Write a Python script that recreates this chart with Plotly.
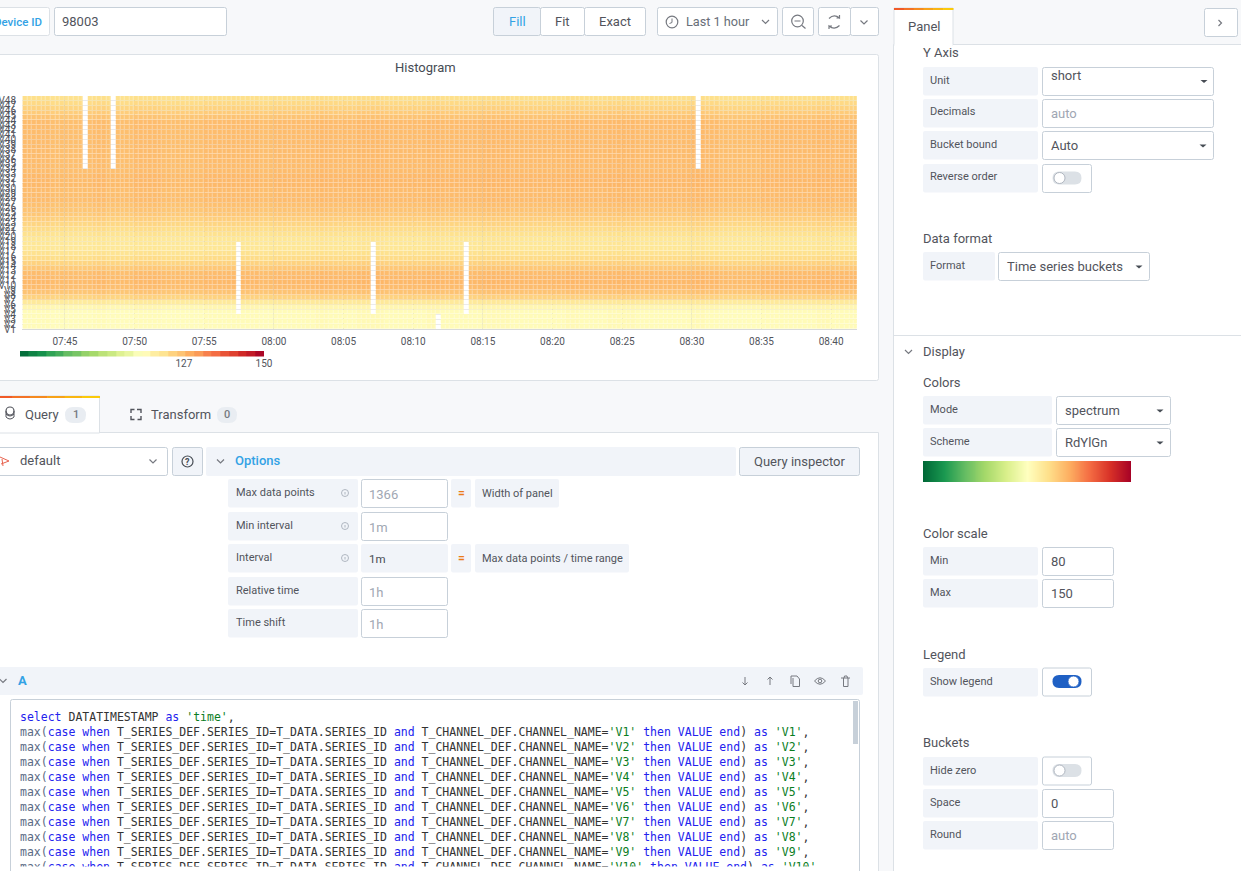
import re
import pandas as pd
import plotly.graph_objects as go

W, H = 1241, 871

channels = ["V%d" % i for i in range(1, 49)]
# value per channel, bottom (V1) to top (V48)
channel_levels = [116, 116, 116, 116, 117, 120, 124, 126, 127, 127.5,
                  127.5, 127, 125.5, 124, 122.5, 121.5, 120.5, 120.5, 120.5, 121.5,
                  122.5, 123.5, 124.5, 125.5, 126, 126.5, 127, 127, 127, 127.5,
                  127.5, 127.5, 127, 127, 127, 127, 127, 127, 127, 127,
                  127, 127, 127, 126, 125, 124, 123, 122]
# drift of each minute from 07:42 to 08:41
minute_drift = [0, 0, -0.4, -0.4, -0.4, 0, -0.4, -0.4, 0, 0,
                -0.4, -0.4, -0.4, 0, 0, 0, 0, -0.4, 0, 0,
                0, 0.3, 0, 0, 0.3, 0.3, 0, 0, 0, 0.3,
                0, 0, 0, 0.3, 0.3, 0, 0, 0, 0, 0.3,
                0, 0, 0.3, 0.3, 0, 0, 0, 0, 0.3, 0,
                -0.4, -0.4, -0.4, 0, 0, 0, 0, 0.3, 0, 0]
# (column of 20 s, first channel index, last channel index)
missing_blocks = [(13, 33, 47), (19, 33, 47), (145, 33, 47),
                  (46, 3, 17), (75, 3, 17), (95, 3, 17), (89, 0, 2)]
tick_times = ["07:45", "07:50", "07:55", "08:00", "08:05", "08:10", "08:15", "08:20",
              "08:25", "08:30", "08:35", "08:40"]
legend_values = [81, 84, 86, 89, 91, 94, 96, 99, 101, 104, 106, 109, 111, 114,
                 116, 119, 121, 124, 126, 129, 131, 134, 136, 139, 141, 144, 146, 149]
legend_ticks = [127, 150]
scheme_ramp = list(range(80, 151))
code_channels = ["V1", "V2", "V3", "V4", "V5", "V6", "V7", "V8", "V9", "V10"]

rdylgn = ["#006837", "#1a9850", "#66bd63", "#a6d96a", "#d9ef8b", "#ffffbf",
          "#fee08b", "#fdae61", "#f46d43", "#d73027", "#a50026"]
colorscale = [[i / 10, c] for i, c in enumerate(rdylgn)]

BG = "#f7f8fa"
PANEL = "#f1f4f9"
LINE = "#dce1e6"
INPUT = "#c7d0d9"
TEXT = "#52545c"
MUTED = "#9fa7b3"
BLUE = "#33a2e5"

shapes = []
notes = []


def fx(x):
    return x / W


def fy(y):
    return 1 - y / H


def px_path(s):
    out, is_x = [], True
    for tok in re.findall(r"[A-Z]|-?[\d.]+", s):
        if tok.isalpha():
            out.append(tok)
            is_x = True
        else:
            out.append(str(fx(float(tok))) if is_x else str(fy(float(tok))))
            is_x = not is_x
    return " ".join(out)


def path(s, fill=None, line=None, width=1.2):
    shapes.append(dict(type="path", path=px_path(s), xref="paper", yref="paper", layer="below",
                       fillcolor=fill or "rgba(0,0,0,0)", line=dict(color=line or "rgba(0,0,0,0)", width=width)))


def box(x0, y0, x1, y1, fill=None, line=None, r=2):
    path("M %s %s L %s %s Q %s %s %s %s L %s %s Q %s %s %s %s L %s %s Q %s %s %s %s L %s %s Q %s %s %s %s Z" % (
        x0 + r, y0, x1 - r, y0, x1, y0, x1, y0 + r, x1, y1 - r, x1, y1, x1 - r, y1,
        x0 + r, y1, x0, y1, x0, y1 - r, x0, y0 + r, x0, y0, x0 + r, y0), fill, line, 1)


def circle(x, y, r, fill=None, line=None, width=1.2):
    shapes.append(dict(type="circle", xref="paper", yref="paper", layer="below",
                       x0=fx(x - r), x1=fx(x + r), y0=fy(y + r), y1=fy(y - r),
                       fillcolor=fill or "rgba(0,0,0,0)", line=dict(color=line or "rgba(0,0,0,0)", width=width)))


def label(x, y, s, size=13, color=TEXT, anchor="left", weight=400, family="Roboto"):
    notes.append(dict(x=fx(x), y=fy(y), xref="paper", yref="paper", text=s, showarrow=False,
                      xanchor=anchor, yanchor="middle", borderpad=0, borderwidth=0,
                      font=dict(size=size, color=color, weight=weight, family=family)))


def chevron(x, y, color="#767980"):
    path("M %s %s L %s %s L %s %s" % (x - 3.5, y - 1.5, x, y + 2, x + 3.5, y - 1.5), line=color)


def caret(x, y):
    path("M %s %s L %s %s L %s %s Z" % (x - 3.5, y - 1.5, x + 3.5, y - 1.5, x, y + 1.5), fill="#464c54")


def tab_top(x0, x1, y):
    stops = ["#f05a28", "#f37226", "#f58a1f", "#f7a218", "#f9b611", "#fbca0a"]
    step = (x1 - x0) / len(stops)
    for i, c in enumerate(stops):
        box(x0 + i * step, y, x0 + (i + 1) * step + 0.5, y + 2, fill=c, r=0)


def toggle(x0, y0, on):
    box(x0, y0, x0 + 49, y0 + 28, fill="white", line=INPUT)
    box(x0 + 10, y0 + 7, x0 + 39, y0 + 20, fill="#1f60c4" if on else LINE, r=6.5)
    circle(x0 + (31 if on else 17), y0 + 13.5, 5.5, fill="white", line="#1f60c4" if on else MUTED, width=0.8)


def field(y, name, x1, text=None, x2=1213.5, hint=False, select=False, left=923, right=1038, size=11, text_x=None):
    box(left, y, right, y + 28.5, fill=PANEL)
    label(left + 7, y + 13, name, size=size)
    if text is not None:
        box(x1, y + 0.5, x2, y + 28.5, fill="white", line=INPUT)
        label(text_x or x1 + 8, y + 14.5, text, size=13, color=MUTED if hint else TEXT)
    if select:
        caret(x2 - 10.5, y + 15)


# page, panels
box(-2, -2, W + 2, H + 2, fill=BG, r=0)
box(-2, 54.5, 878.5, 380.5, fill="white", line=LINE)
box(-2, 432.5, 878.5, H + 5, fill="white", line=LINE, r=0)
box(893.5, 44.5, W + 3, H + 5, fill="white", line=LINE, r=0)

# top bar
box(-10, 7.5, 49.5, 35.5, fill="white", line=LINE)
label(42, 21.5, "Device ID", size=11.5, color=BLUE, anchor="right", weight=500)
box(54.5, 7.5, 226.5, 35.5, fill="white", line=INPUT)
label(62, 21.5, "98003", size=13)
box(493.5, 7.5, 540.5, 35.5, fill=PANEL, line=INPUT)
box(540.5, 7.5, 584.5, 35.5, fill="white", line=INPUT)
box(584.5, 7.5, 645.5, 35.5, fill="white", line=INPUT)
label(517, 21.5, "Fill", size=13, color=BLUE, anchor="center")
label(562.5, 21.5, "Fit", size=13, anchor="center")
label(615, 21.5, "Exact", size=13, anchor="center")
box(657.5, 7.5, 777.5, 35.5, fill="white", line=INPUT)
circle(672, 22, 5.8, line="#767980")
path("M 672 18.5 L 672 22.5 L 669.5 23.5", line="#767980", width=1)
label(685.5, 21.5, "Last 1 hour", size=12.7, color="#686e78")
chevron(765.5, 21.5)
box(782.5, 7.5, 813.5, 35.5, fill="white", line=INPUT)
circle(797.5, 21, 5.8, line="#767980")
path("M 794.5 21 L 800.5 21 M 802 25.5 L 805.5 28.5", line="#767980")
box(818.5, 7.5, 850.5, 35.5, fill="white", line=INPUT)
box(850.5, 7.5, 878.5, 35.5, fill="white", line=INPUT)
path("M 829 18.5 Q 834 13.5 839.5 18 L 839.5 15 M 839.5 18 L 836.5 18 M 839.5 25.5 Q 834.5 30.5 829 26 L 829 29 M 829 26 L 832 26",
     line="#767980")
chevron(864, 22)

label(425.5, 67.5, "Histogram", size=13, color="#464c54", anchor="center")

# query tabs
box(-5, 396, 99.5, 433, fill="white", line=LINE, r=0)
tab_top(-5, 99.5, 396)
circle(10, 411, 4, line=TEXT)
path("M 6 411 L 6 417 Q 10 421 14 417 L 14 411 M 6 414 Q 10 418 14 414", line=TEXT, width=1)
label(24.5, 414.5, "Query", size=13)
box(65, 407, 86, 423, fill="#e9edf2", r=8)
label(75.5, 415, "1", size=11, anchor="center", color="#767980", weight=500)
path("M 131 413 L 131 409.5 L 134.5 409.5 M 137 409.5 L 141 409.5 L 141 413 M 141 416 L 141 419.5 L 137.5 419.5 M 134.5 419.5 L 131 419.5 L 131 416",
     line=TEXT, width=1.4)
label(151, 414.5, "Transform", size=13)
box(217, 407, 237, 423, fill="#e9edf2", r=8)
label(227, 415, "0", size=11, anchor="center", color="#767980", weight=500)

box(-5, 447.5, 167.5, 475.5, fill="white", line=INPUT)
path("M 0 457 L 9 461 L 1 464 M 2 459 L 3 466", line="#e8634f", width=1)
label(20, 460.5, "default", size=13)
chevron(153, 461)
box(172.5, 447.5, 202.5, 475.5, fill=PANEL, line=INPUT)
circle(187.5, 461.5, 5.5, line="#464c54")
label(187.5, 461.5, "?", size=9, color="#464c54", anchor="center", weight=700)
box(206, 447, 736, 476, fill=PANEL)
chevron(220.5, 461)
label(235, 460.5, "Options", size=13, color=BLUE, weight=500)
box(739.5, 447.5, 859.5, 475.5, fill=PANEL, line=INPUT)
label(799.5, 461, "Query inspector", size=13, anchor="center")

option_rows = [(479, "Max data points", "1366", True, True), (512, "Min interval", "1m", True, True),
               (544, "Interval", "1m", True, False), (577, "Relative time", "1h", False, True),
               (609, "Time shift", "1h", False, True)]
for y, name, val, info, hint in option_rows:
    box(228, y, 358, y + 28.5, fill=PANEL)
    label(235.5, y + 13.5, name, size=11)
    if info:
        circle(345, y + 14, 3.5, line=MUTED, width=0.8)
        path("M 345 %s L 345 %s" % (y + 13, y + 15.5), line=MUTED, width=0.8)
    if hint:
        box(361.5, y + 0.5, 447.5, y + 28.5, fill="white", line=INPUT)
        label(369, y + 15, val, size=13, color=MUTED)
    else:
        box(361, y, 448, y + 28.5, fill=PANEL)
        label(369, y + 14.5, val, size=11.5, color="#464c54")

for y, text, x1 in [(479, "Width of panel", 559), (544, "Max data points / time range", 629)]:
    box(451, y, 471, y + 28.5, fill=PANEL)
    label(461, y + 14, "=", size=12, color="#eb7b18", anchor="center", weight=700)
    box(475, y, x1, y + 28.5, fill=PANEL)
    label(482, y + 14, text, size=11)

# query row
box(-5, 667, 863, 695, fill=PANEL)
chevron(3, 680.5)
label(17.5, 680.5, "A", size=13, color=BLUE, weight=700)
path("M 745 677 L 745 685 M 742.5 682.5 L 745 685 L 747.5 682.5", line="#767980", width=1)
path("M 770 685 L 770 677 M 767.5 679.5 L 770 677 L 772.5 679.5", line="#767980", width=1)
path("M 793 678 L 793 686.5 L 799.5 686.5 L 799.5 679 L 797 676 L 791 676 L 791 684", line="#767980", width=1)
path("M 814.5 681 Q 820 674.5 825.5 681 Q 820 687.5 814.5 681 Z", line="#767980", width=1)
circle(820, 681, 1.8, line="#767980", width=1)
path("M 841 678 L 850 678 M 843.5 678 L 843.5 686.5 L 848 686.5 L 848 678 M 844 678 L 844.5 676 L 847 676 L 847.5 678",
     line="#767980", width=1)

# sql editor
box(10.5, 699.5, 859.5, H + 5, fill="white", line=INPUT)
box(853, 701, 858, 744, fill=INPUT, r=0)
KW = "#2222ee"
STR = "#0a7d1e"
FN = "#5b6b85"
DARK = "#333333"


def span(text, color):
    return "<span style='color:%s'>%s</span>" % (color, text)


label(20, 717.3, span("select", KW) + span(" DATATIMESTAMP ", DARK) + span("as", KW) + span(" ", DARK)
      + span("'time'", STR) + span(",", DARK), size=11.5, color=DARK, family="DejaVu Sans Mono")
for i, ch in enumerate(code_channels):
    row = (span("max(", FN) + span("case when", KW) + span(" T_SERIES_DEF.SERIES_ID=T_DATA.SERIES_ID ", DARK)
           + span("and", KW) + span(" T_CHANNEL_DEF.CHANNEL_NAME=", DARK) + span("'%s'" % ch, STR) + span(" ", DARK)
           + span("then VALUE end", KW) + span(") ", DARK) + span("as", KW) + span(" ", DARK)
           + span("'%s'" % ch, STR) + span(",", DARK))
    label(20, 732.3 + 15 * i, row, size=11.5, color=DARK, family="DejaVu Sans Mono")
# hides the lower part of the last code line
notes.append(dict(x=fx(11.5), y=fy(865.5), xref="paper", yref="paper", text=" ", showarrow=False, xanchor="left",
                  yanchor="top", width=840, height=8, bgcolor="white", borderpad=0))

# right side
box(894, 8, 953, 45, fill="white", line=LINE, r=0)
box(894.5, 44, 952.5, 46, fill="white", r=0)
tab_top(894, 953, 8)
label(908, 26.5, "Panel", size=13)
box(1204.5, 8.5, 1237.5, 36.5, fill="white", line=INPUT)
path("M 1218.5 20 L 1221.5 23 L 1218.5 26", line="#767980")

label(923, 52.5, "Y Axis", size=13)
field(67, "Unit", 1042.5)
box(1042.5, 67.5, 1213.5, 95.5, fill="white", line=INPUT)
label(1050.5, 75.5, "short", size=13)
caret(1204, 81.5)
field(99, "Decimals", 1042.5, "auto", hint=True)
field(131, "Bucket bound", 1042.5, "Auto", select=True)
field(164, "Reverse order", 1042.5)
toggle(1042.5, 164.5, False)

label(923, 238.5, "Data format", size=13)
field(252, "Format", 998.5, "Time series buckets", x2=1149.5, select=True, right=995, text_x=1007)

path("M 894 335.5 L %s 335.5" % (W + 2), line=LINE, width=1)
chevron(908.5, 351.5)
label(923, 351.5, "Display", size=13)
label(923, 382.5, "Colors", size=13)
field(396, "Mode", 1056.5, "spectrum", x2=1170.5, select=True, right=1052)
field(428, "Scheme", 1056.5, "RdYlGn", x2=1170.5, select=True, right=1052)

label(923, 533.5, "Color scale", size=13)
field(547, "Min", 1042.5, "80", x2=1113.5)
field(579, "Max", 1042.5, "150", x2=1113.5)

label(923, 654.5, "Legend", size=13)
field(668, "Show legend", 1042.5)
toggle(1042.5, 668, True)

label(923, 742.5, "Buckets", size=13)
field(757, "Hide zero", 1042.5)
toggle(1042.5, 757, False)
field(789, "Space", 1042.5, "0", x2=1113.5)
field(821, "Round", 1042.5, "auto", x2=1113.5, hint=True)

# heatmap values
x_cells = pd.date_range("2020-01-01 07:42:08", periods=180, freq="20s")
y_cells = [i + 0.5 for i in range(48)]
z = [[channel_levels[r] + minute_drift[c // 3] for c in range(180)] for r in range(48)]
for col, first, last in missing_blocks:
    for r in range(first, last + 1):
        z[r][col] = None

fig = go.Figure()
# paler copy underneath: it shows through the thin gaps between cells
fig.add_trace(go.Heatmap(x=x_cells, y=y_cells, z=z, zmin=80, zmax=150, colorscale=colorscale, showscale=False,
                         opacity=0.55, hoverinfo="skip", xaxis="x", yaxis="y"))
fig.add_trace(go.Heatmap(x=x_cells, y=y_cells, z=z, zmin=80, zmax=150, colorscale=colorscale, showscale=False,
                         xgap=0.8, ygap=0.8, hoverongaps=False, xaxis="x", yaxis="y"))
fig.add_trace(go.Heatmap(x=legend_values, y=[0], z=[legend_values], zmin=80, zmax=150, colorscale=colorscale,
                         showscale=False, hoverinfo="skip", xaxis="x2", yaxis="y2"))
fig.add_trace(go.Heatmap(x=scheme_ramp, y=[0], z=[scheme_ramp], zmin=80, zmax=150, colorscale=colorscale,
                         showscale=False, hoverinfo="skip", zsmooth="best", xaxis="x3", yaxis="y3"))

tick_font = dict(family="Roboto", size=10, color="#52545c")
fig.update_layout(
    width=W, height=H, autosize=False,
    margin=dict(l=0, r=0, t=0, b=0, pad=0),
    paper_bgcolor=BG, plot_bgcolor="white",
    shapes=shapes, annotations=notes, showlegend=False,
    font=dict(family="Roboto"),
    xaxis=dict(domain=[fx(22), fx(856.7)], type="date", automargin=False,
               range=["2020-01-01 07:41:55", "2020-01-01 08:41:50"],
               tickvals=["2020-01-01 %s" % t for t in tick_times], ticktext=tick_times,
               tickfont=tick_font, ticks="outside", ticklen=3, tickcolor="rgba(0,0,0,0)",
               showgrid=True, gridcolor="rgba(90,90,90,0.25)", zeroline=False,
               showline=True, linecolor="#d8d9da", anchor="y"),
    yaxis=dict(domain=[fy(329), fy(96)], range=[0, 48], automargin=False,
               tickvals=list(range(48)), ticktext=channels,
               tickfont=tick_font, ticks="outside", ticklen=3, tickcolor="rgba(0,0,0,0)",
               showgrid=True, gridcolor="rgba(90,90,90,0.12)", zeroline=False,
               showline=False, anchor="x"),
    xaxis2=dict(domain=[fx(20), fx(264)], range=[80, 150], tickvals=legend_ticks, automargin=False,
                ticktext=[str(v) for v in legend_ticks], tickfont=tick_font,
                ticks="", ticklabelstandoff=-1,
                showgrid=False, zeroline=False, anchor="y2"),
    yaxis2=dict(domain=[fy(356.5), fy(351)], range=[-0.5, 0.5], visible=False, anchor="x2", automargin=False),
    xaxis3=dict(domain=[fx(923), fx(1131)], range=[80, 150], visible=False, anchor="y3", automargin=False),
    yaxis3=dict(domain=[fy(482), fy(461)], range=[-0.5, 0.5], visible=False, anchor="x3", automargin=False),
)

fig.write_html("out.html", config=dict(displayModeBar=False),
               post_script="document.body.style.margin='0';document.body.style.overflow='hidden';")
